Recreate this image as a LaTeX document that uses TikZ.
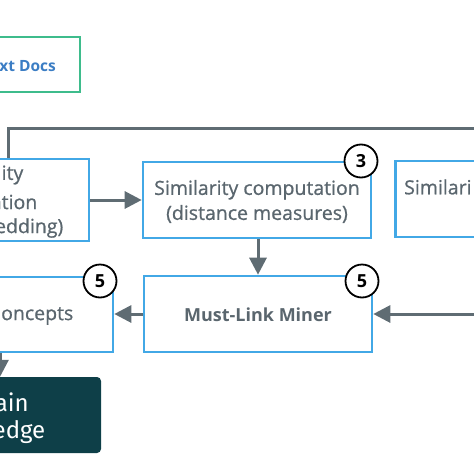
\documentclass[tikz,border=0pt]{standalone}
\usepackage{fontspec}
\setmainfont{Open Sans}
\newfontfamily\graytext{Open Sans}[FakeBold=0.8]
\newfontfamily\darkfont{Fira Sans}
\usetikzlibrary{arrows.meta}
\definecolor{boxblue}{RGB}{66,168,230}
\definecolor{linegray}{RGB}{95,108,115}
\definecolor{txtgray}{RGB}{90,102,110}
\definecolor{docgreen}{RGB}{62,188,140}
\definecolor{docblue}{RGB}{59,125,196}
\definecolor{darkteal}{RGB}{14,63,72}
\tikzset{
  bbox/.style={draw=boxblue,line width=2.6pt,fill=white,inner sep=0pt},
  txt/.style={text=txtgray,font=\graytext\fontsize{19.5}{23}\selectfont,inner sep=0pt},
  arr/.style={draw=linegray,line width=3pt,-{Triangle[length=17pt,width=17pt]}},
  conn/.style={draw=linegray,line width=3pt},
  num/.style={circle,draw=black,line width=1.8pt,fill=white,minimum size=33pt,inner sep=0pt,font=\fontsize{18}{18}\selectfont\bfseries},
}
\begin{document}
\begin{tikzpicture}[x=1pt,y=-1pt]
\useasboundingbox (0,0) rectangle (474,474);
\clip (0,0) rectangle (474,474);
% top green box
\node[draw=docgreen,line width=2.6pt,minimum width=180pt,minimum height=55pt,inner sep=0pt] (docs) at (-10,64.5) {};
\node[anchor=east,text=docblue,font=\fontsize{15.5}{18}\selectfont\bfseries,inner sep=0pt] (docst) at (56,66) {xt Docs};
% left box 1
\node[bbox,minimum width=190pt,minimum height=82pt] (lb1) at (-6,200) {};
\node[txt,anchor=east] (l1a) at (23.5,175) {ity};
\node[txt,anchor=east] (l1b) at (37.5,202) {ation};
\node[txt,anchor=east] (l1c) at (63.5,228) {edding)};
% similarity computation
\node[bbox,minimum width=228pt,minimum height=76pt] (sim) at (257,200) {};
\node[txt,align=center,font=\graytext\fontsize{19.5}{25}\selectfont] (simt) at (257,201.5) {Similarity computation\\(distance measures)};
% right box
\node[bbox,minimum width=200pt,minimum height=76pt,anchor=west] (rb) at (394,199) {};
\node[txt,anchor=west] (rbt) at (404,187) {Similari};
% must-link miner
\node[bbox,minimum width=228pt,minimum height=76pt] (ml) at (258,314) {};
\node[text=txtgray,inner sep=0pt,font=\fontsize{18}{20}\selectfont\bfseries] (mlt) at (258,315) {Must-Link Miner};
% left box 2
\node[bbox,minimum width=213pt,minimum height=75pt] (lb2) at (6.5,314.5) {};
\node[txt,anchor=east] (lb2t) at (73.5,316) {oncepts};
% dark box
\node[fill=darkteal,rounded corners=4pt,minimum width=201pt,minimum height=76pt,inner sep=0pt] (dk) at (0.5,415) {};
\node[anchor=east,text=white,inner sep=0pt,font=\darkfont\fontsize{24}{30}\selectfont] (dk1) at (29,402) {ain};
\node[anchor=east,text=white,inner sep=0pt,font=\darkfont\fontsize{24}{30}\selectfont] (dk2) at (45.5,432) {edge};
% circles
\node[num] (c3) at (361,161) {3};
\node[num] (c5a) at (362,281) {5};
\node[num] (c5b) at (100,281) {5};
% connectors
\coordinate (topr) at (474,128);
\coordinate (rin) at (474,314);
\coordinate (dx) at (0,0);
\draw[conn] (lb1.north -| 8,0) |- (topr);
\draw[arr] (lb1.east |- sim.west) -- (sim.west);
\draw[arr] (sim.south -| ml.north) -- (ml.north);
\draw[arr] (ml.west) -- (lb2.east |- ml.west);
\draw[arr] (rin) -- (ml.east);
\draw[arr] (lb2.south -| dx) -- (dk.north -| dx);
\end{tikzpicture}
\end{document}
